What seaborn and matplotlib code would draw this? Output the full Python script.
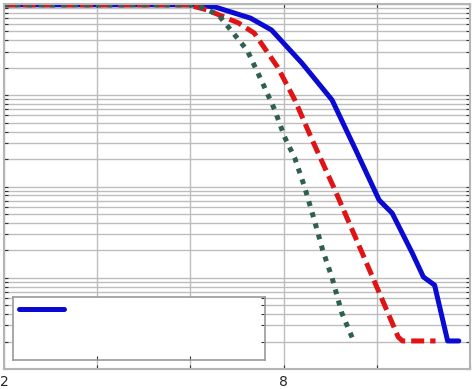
import matplotlib
matplotlib.use('Agg')
import matplotlib.pyplot as plt
import matplotlib.ticker as mticker
import seaborn as sns
import pandas as pd
import numpy as np

# Valeurs (SNR en dB, taux d'erreur)
snr_a = [2.0, 6.1, 6.53, 7.29, 7.74, 8.39, 9.04, 9.55, 10.05, 10.33, 10.76, 11.0, 11.24, 11.52, 11.76]
ber_a = [0.98, 0.98, 0.927, 0.70, 0.519, 0.226, 0.0887, 0.025, 0.0071, 0.0051, 0.00187, 0.00102, 0.00083, 0.000203, 0.000203]

snr_b = [2.0, 5.95, 6.36, 7.03, 7.37, 7.87, 8.24, 8.63, 9.10, 9.68, 10.12, 10.46, 10.55, 11.26]
ber_b = [0.98, 0.98, 0.86, 0.62, 0.48, 0.204, 0.089, 0.031, 0.0092, 0.0019, 0.00057, 0.000224, 0.000203, 0.000203]

snr_c = [2.0, 5.9, 6.14, 6.6, 6.92, 7.22, 7.55, 7.81, 8.02, 8.24, 8.45, 8.67, 8.84, 9.04, 9.25, 9.49]
ber_c = [0.98, 0.98, 0.97, 0.76, 0.48, 0.31, 0.136, 0.069, 0.035, 0.0205, 0.0099, 0.0041, 0.002, 0.001, 0.00041, 0.00021]

x_ticks = [2, 4, 6, 8, 10, 12]
x_labels = ['2', '', '', '8', '', '']

df = pd.concat([
    pd.DataFrame({'snr': snr_a, 'ber': ber_a, 'courbe': 'a'}),
    pd.DataFrame({'snr': snr_b, 'ber': ber_b, 'courbe': 'b'}),
    pd.DataFrame({'snr': snr_c, 'ber': ber_c, 'courbe': 'c'}),
], ignore_index=True)

sns.set_style('white')
plt.rcParams['font.family'] = ['DejaVu Sans']

fig = plt.figure(figsize=(4.74, 3.89), dpi=100)
ax = fig.add_axes([4 / 474, 20 / 389, 466 / 474, 365 / 389])

sns.lineplot(data=df, x='snr', y='ber', hue='courbe', style='courbe',
             palette={'a': '#0a0ad2', 'b': '#e01414', 'c': '#2f5f50'},
             dashes={'a': '', 'b': (2.6, 1.2), 'c': (1, 1.3)},
             linewidth=3.6, sort=False, estimator=None, legend=False, ax=ax)

ax.set_yscale('log')
ax.set_xlim(2, 12)
ax.set_ylim(1e-4, 1)
ax.set_xlabel('')
ax.set_ylabel('')
ax.set_xticks(x_ticks)
ax.set_xticklabels(x_labels, fontsize=10)
ax.yaxis.set_major_locator(mticker.LogLocator(base=10, numticks=10))
ax.yaxis.set_minor_locator(mticker.LogLocator(base=10, subs=np.arange(2, 10), numticks=20))
ax.yaxis.set_major_formatter(mticker.NullFormatter())
ax.yaxis.set_minor_formatter(mticker.NullFormatter())

ax.grid(which='major', axis='both', color='#bdbdbd', lw=1)
ax.grid(which='minor', axis='y', color='#bdbdbd', lw=1)
ax.tick_params(which='both', direction='in', length=3, width=0.8, color='#333333',
               left=True, right=True, top=True, bottom=True, pad=4)
for s in ax.spines.values():
    s.set_color('#b5b5b5')
    s.set_linewidth(1.5)

# Encadré de légende
ins = fig.add_axes([13 / 474, (389 - 360) / 389, 252 / 474, 63 / 389])
ins.set_facecolor('white')
ins.set_yscale('log')
ins.set_xlim(2 + 9 / 46.6, 2 + 261 / 46.6)
ins.set_ylim(10 ** (-356 / 91.25), 10 ** (-293 / 91.25))
ins.set_xticks([4, 6])
ins.xaxis.set_major_formatter(mticker.NullFormatter())
ins.yaxis.set_minor_locator(mticker.LogLocator(base=10, subs=np.arange(2, 10), numticks=20))
ins.yaxis.set_major_formatter(mticker.NullFormatter())
ins.yaxis.set_minor_formatter(mticker.NullFormatter())
ins.tick_params(which='both', direction='in', length=3, width=0.8, color='#333333',
                left=False, right=True, top=False, bottom=True)
for s in ins.spines.values():
    s.set_color('#9a9a9a')
    s.set_linewidth(1.2)

ins.legend(handles=[ax.lines[0]], labels=[' '], loc='upper left', frameon=False,
           handlelength=3.3, fontsize=10, borderaxespad=0.2, borderpad=0.2)

fig.savefig('out.png', dpi=100)
